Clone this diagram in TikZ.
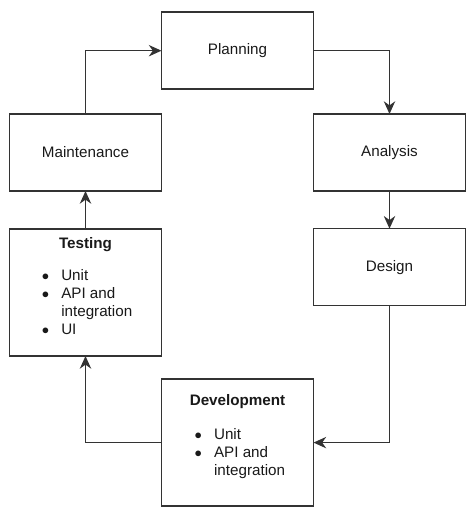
\documentclass[tikz,border=0pt]{standalone}
\usepackage{fontspec}
\setmainfont{Liberation Sans}
\usepackage{xcolor}
\usepackage{tikz}
\usetikzlibrary{arrows.meta}
\definecolor{linegray}{HTML}{333333}
\def\itemp#1#2#3{\node [bul] at (#2,#3) {$\bullet$}; \node [itm] at (#2+15.5,#3) {#1}}
\tikzstyle{stage}=[draw=linegray,line width=1.1pt,inner sep=0pt,outer sep=0pt,minimum width=152pt*0.75,font=\fontsize{11.4}{13.5}\selectfont,text=black!90]
\tikzstyle{short}=[stage,minimum height=77pt*0.75]
\tikzstyle{tall}=[stage,minimum height=127pt*0.75]
\tikzstyle{title}=[font=\fontsize{11.4}{13.5}\selectfont\bfseries,text=black!90,inner sep=0pt,anchor=base]
\tikzstyle{bul}=[font=\fontsize{11.4}{13.5}\selectfont,text=black!90,inner sep=0pt,anchor=base]
\tikzstyle{itm}=[bul,anchor=base west]
\tikzstyle{flow}=[draw=linegray,line width=1.1pt,-{Stealth[length=9.5pt,width=8.5pt,inset=3pt]}]

\begin{document}
\begin{tikzpicture}[x=0.75pt,y=-0.75pt]
    \useasboundingbox (0,0) rectangle (474,517);
    \node [short] (planning) at (237.5,50.7) {Planning};
    \node [short] (maintenance) at (85.5,152.5) {Maintenance};
    \node [short] (analysis) at (389.5,152.5) {Analysis};
    \node [tall] (testing) at (85.5,292.5) {};
    \node [short] (design) at (389.5,267.2) {Design};
    \node [tall] (development) at (237.5,442.6) {};
    \node [title] (testingtitle) at (85.5,248.3) {Testing};
    \itemp{Unit}{45.5}{280.7};
    \itemp{API and}{45.5}{298.7};
    \node [itm] (testingcont) at (61,316.7) {integration};
    \itemp{UI}{45.5}{334.7};
    \node [title] (developmenttitle) at (237.5,405.7) {Development};
    \itemp{Unit}{198.3}{439.3};
    \itemp{API and}{198.3}{457.3};
    \node [itm] (developmentcont) at (213.8,475.3) {integration};
    \draw [flow] (maintenance.north) |- (planning.west);
    \draw [flow] (planning.east) -| (analysis.north);
    \draw [flow] (analysis.south) -- (design.north);
    \draw [flow] (design.south) |- (development.east);
    \draw [flow] (development.west) -| (testing.south);
    \draw [flow] (testing.north) -- (maintenance.south);
\end{tikzpicture}
\end{document}
